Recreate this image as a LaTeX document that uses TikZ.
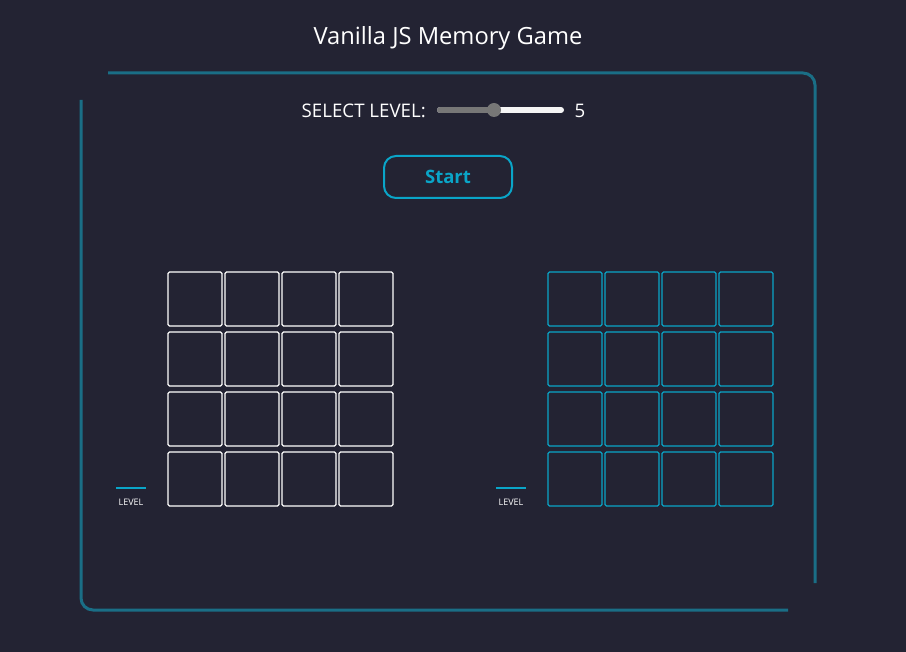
\documentclass[tikz,border=0pt]{standalone}
\usepackage{fontspec}
\setmainfont{Open Sans}
\definecolor{bg}{HTML}{232333}
\definecolor{frame}{HTML}{1A6E86}
\definecolor{cy}{HTML}{0AA5C8}
\definecolor{trk}{HTML}{777777}
\begin{document}
\begin{tikzpicture}[x=1pt,y=-1pt,
  cellw/.style={draw=white,line width=1.2pt,rounded corners=1.5pt},
  cellc/.style={draw=cy,line width=1.2pt,rounded corners=1.5pt},
  fr/.style={draw=frame,line width=3pt,rounded corners=12pt},
  txt/.style={text=white,inner sep=0pt}]
\fill[bg] (0,0) rectangle (906,652);
\useasboundingbox (0,0) rectangle (906,652);
\node[txt,font=\fontsize{23.7}{26}\selectfont] (title) at (448,38) {Vanilla JS Memory Game};
\draw[fr] (108,73) -- (815,73) -- (815,583);
\draw[fr] (81,100) -- (81,610) -- (788,610);
\node[txt,font=\fontsize{18.7}{21}\selectfont,anchor=east] (sel) at (426,111) {SELECT LEVEL:};
\draw[white!92!gray,line width=6pt,line cap=round] (440,110) -- (561,110);
\draw[trk,line width=6pt,line cap=round] (440,110) -- (494,110);
\node[circle,fill=trk,minimum size=14pt,inner sep=0pt] (knob) at (494,110) {};
\node[txt,font=\fontsize{18.7}{21}\selectfont] (val) at (580,111) {5};
\node[draw=cy,line width=2pt,rounded corners=12pt,minimum width=128pt,minimum height=42pt,text=cy,font=\fontsize{18.5}{21}\selectfont\bfseries] (start) at (448,177) {Start};
\foreach \i in {0,...,3}{
  \foreach \j in {0,...,3}{
    \draw[cellw] ({168+57*\i},{272+60*\j}) rectangle ++(54,54);
    \draw[cellc] ({548+57*\i},{272+60*\j}) rectangle ++(54,54);
  }}
\draw[cy,line width=1.2pt] (116,488) -- (146,488);
\node[txt,font=\fontsize{9}{10}\selectfont] (lv1) at (131,502) {LEVEL};
\draw[cy,line width=1.2pt] (496,488) -- (526,488);
\node[txt,font=\fontsize{9}{10}\selectfont] (lv2) at (511,502) {LEVEL};
\end{tikzpicture}
\end{document}
